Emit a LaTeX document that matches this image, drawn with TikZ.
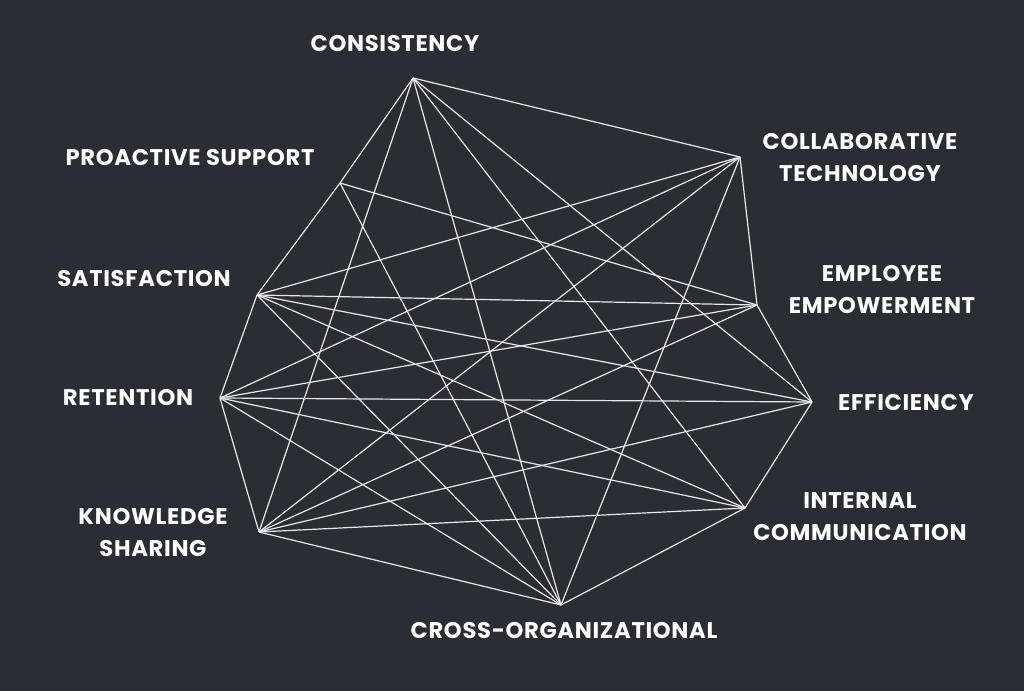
\documentclass[tikz,border=0pt]{standalone}
\usepackage{fontspec}
\setmainfont{Poppins}[LetterSpace=3]
\definecolor{bg}{HTML}{2A2D33}
\definecolor{ln}{HTML}{E8E8E8}
\begin{document}
\begin{tikzpicture}[x=0.75pt,y=-0.75pt,
  lab/.style={text=white,font=\fontsize{17pt}{24pt}\selectfont\bfseries,align=center,inner sep=0pt},
  pt/.style={inner sep=0pt,minimum size=0pt},
  edge/.style={draw=ln,line width=0.9pt}]
\fill[bg] (0,0) rectangle (1024,691);
\useasboundingbox (0,0) rectangle (1024,691);
\node[pt] (C) at (413,78) {};
\node[pt] (PS) at (340,183) {};
\node[pt] (CT) at (740,157) {};
\node[pt] (Sat) at (257,295) {};
\node[pt] (EE) at (757,305) {};
\node[pt] (Ret) at (220,398) {};
\node[pt] (Eff) at (812,402) {};
\node[pt] (KS) at (259,532) {};
\node[pt] (IC) at (745,508) {};
\node[pt] (CO) at (561,605) {};
\foreach \a/\b in {C/CT,C/PS,PS/Sat,C/KS,C/CO,C/IC,C/Eff,PS/EE,PS/CO,CT/Sat,CT/Ret,CT/KS,CT/CO,CT/EE,EE/Eff,EE/Sat,EE/Ret,EE/KS,Eff/Sat,Eff/Ret,Eff/KS,Eff/IC,IC/Sat,IC/Ret,IC/KS,IC/CO,Sat/CO,Sat/Ret,Ret/CO,Ret/KS,KS/CO}
  \draw[edge] (\a.center) -- (\b.center);
\node[lab] (lC) at (395,44) {CONSISTENCY};
\node[lab] (lPS) at (190,158) {PROACTIVE SUPPORT};
\node[lab] (lCT) at (860,158) {COLLABORATIVE\\TECHNOLOGY};
\node[lab] (lSat) at (144,279) {SATISFACTION};
\node[lab] (lEE) at (882,290) {EMPLOYEE\\EMPOWERMENT};
\node[lab] (lRet) at (128,398) {RETENTION};
\node[lab] (lEff) at (906,403) {EFFICIENCY};
\node[lab] (lKS) at (153,533) {KNOWLEDGE\\SHARING};
\node[lab] (lIC) at (860,517) {INTERNAL\\COMMUNICATION};
\node[lab] (lCO) at (564,631) {CROSS-ORGANIZATIONAL};
\end{tikzpicture}
\end{document}
